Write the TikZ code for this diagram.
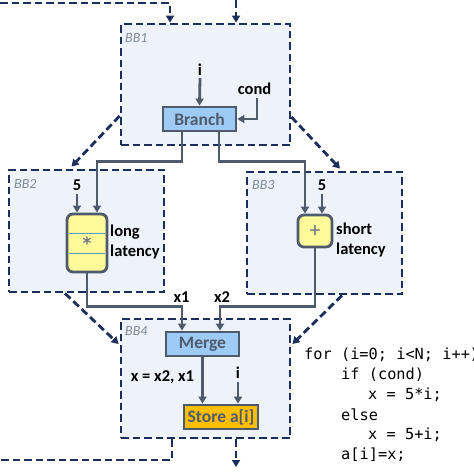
\documentclass[tikz,border=0pt]{standalone}
\usepackage{fontspec}
\setmainfont{Carlito}
\newfontfamily\codefont{DejaVu Sans Mono}
\newfontfamily\symfont{DejaVu Sans}
\usetikzlibrary{arrows.meta,calc}
\definecolor{bbborder}{HTML}{1B2E5C}
\definecolor{bbfill}{HTML}{EEF3FA}
\definecolor{wirec}{HTML}{4F5B6D}
\definecolor{opblue}{HTML}{9DCBF5}
\definecolor{opyellow}{HTML}{FFFA99}
\definecolor{storeor}{HTML}{FFBF00}
\definecolor{bbtext}{HTML}{7F8A99}
\definecolor{stage}{HTML}{5B9BD5}
\definecolor{symc}{HTML}{6E7486}
\begin{document}
\begin{tikzpicture}[x=1pt,y=-1pt,
  bbox/.style={draw=bbborder, fill=bbfill, line width=2.8pt, dash pattern=on 7.5pt off 4pt, inner sep=0pt},
  cflow/.style={draw=bbborder, line width=2.8pt, dash pattern=on 7.5pt off 4pt, -{Triangle[length=7pt,width=8pt]}},
  cline/.style={draw=bbborder, line width=2.8pt, dash pattern=on 7.5pt off 4pt},
  wire/.style={draw=wirec, line width=2.8pt, -{Triangle[length=7pt,width=8pt]}},
  opbox/.style={draw=wirec, line width=2.8pt, inner sep=0pt, font=\fontsize{17.5}{17.5}\selectfont\bfseries, text=wirec},
  lbl/.style={font=\fontsize{16.5}{20}\selectfont\bfseries, inner sep=0pt},
  bblbl/.style={font=\fontsize{14}{14}\selectfont\itshape, text=bbtext, inner sep=0pt, anchor=west},
  codeline/.style={font=\codefont\fontsize{15.3}{15.3}\selectfont, inner sep=0pt, anchor=west}
]
\useasboundingbox (0,0) rectangle (474,474);

% basic blocks
\node[bbox, minimum width=169pt, minimum height=121pt] (bb1) at (205.5,84.5) {};
\node[bbox, minimum width=155pt, minimum height=122pt] (bb2) at (86.5,231) {};
\node[bbox, minimum width=155pt, minimum height=122pt] (bb3) at (324.5,233) {};
\node[bbox, minimum width=169pt, minimum height=119pt] (bb4) at (205.5,378.5) {};

\node[bblbl] (l1) at (125,38) {BB1};
\node[bblbl] (l2) at (14,184) {BB2};
\node[bblbl] (l3) at (252,185) {BB3};
\node[bblbl] (l4) at (125,331) {BB4};

% operations
\node[opbox, fill=opblue, minimum width=73pt, minimum height=24pt] (branch) at (199.5,119) {Branch};
\node[opbox, fill=opyellow, rounded corners=6pt, minimum width=40pt, minimum height=58pt] (mul) at (87,243) {};
\draw[stage, line width=1pt] (68.6,233) -- (105.4,233) (68.6,253) -- (105.4,253);
\node[text=symc, font=\symfont\fontsize{17}{17}\selectfont\bfseries, inner sep=0pt] (mulsym) at (87,243) {*};
\node[opbox, fill=opyellow, rounded corners=6pt, minimum width=34pt, minimum height=32pt, font=\fontsize{22}{22}\selectfont, text=symc] (add) at (315,231) {+};
\node[opbox, fill=opblue, minimum width=73pt, minimum height=24pt] (merge) at (202.5,344) {Merge};
\node[opbox, fill=storeor, minimum width=74pt, minimum height=24pt] (store) at (221,417) {Store a[i]};

% labels
\node[lbl] (i1) at (200,70) {i};
\node[lbl] (cond) at (254.5,89) {cond};
\node[lbl] (five2) at (77,185) {5};
\node[lbl] (five3) at (322,185) {5};
\node[lbl, align=left, anchor=west] (longlat) at (110,242) {long\\latency};
\node[lbl, align=left, anchor=west] (shortlat) at (336,240) {short\\latency};
\node[lbl] (x1) at (181.5,297) {x1};
\node[lbl] (x2) at (222,297) {x2};
\node[lbl] (xeq) at (162.5,377) {x = x2, x1};
\node[lbl] (i4) at (238,373) {i};

% data flow
\draw[wire] (i1.south |- 0,78) -- (branch.north);
\draw[wire] ($(cond.south)+(2.5,3)$) |- (branch.east);
\draw[wire] ($(branch.south)+(-17.5,0)$) -- ++(0,29) -| ($(mul.north)+(10,0)$);
\draw[wire] ($(branch.south)+(19.5,0)$) -- ++(0,29) -| ($(add.north)+(-10,0)$);
\draw[wire] ($(five2.south)+(0,3)$) -- ($(mul.north)+(-10,0)$);
\draw[wire] ($(five3.south)+(0,3)$) -- ($(add.north)+(7,0)$);
\draw[wire] (mul.south) -- ++(0,33) -| ($(merge.north)+(-20.5,0)$);
\draw[wire] (add.south) -- ++(0,58) -| ($(merge.north)+(17.5,0)$);
\draw[wire] (merge.south) -- (merge.south |- store.north);
\draw[wire] ($(i4.south)+(0,3)$) -- (i4.south |- store.north);

% control flow
\coordinate (in1) at (0,3);
\coordinate (in2) at (236,0);
\coordinate (out1) at (0,460);
\coordinate (out2) at (236,467);
\draw[cflow] (in1) -| ($(bb1.north)+(-35.5,0)$);
\draw[cflow] (in2) -- ($(bb1.north)+(30.5,0)$);
\draw[cflow] ($(bb1.west)+(0,31.5)$) -- ($(bb2.north)+(-15,-2)$);
\draw[cflow] ($(bb1.east)+(0,32.5)$) -- ($(bb3.north)+(15.5,-2)$);
\draw[cflow] ($(bb2.south)+(-21.5,0)$) -- ($(bb4.west)+(-1,-34.5)$);
\draw[cflow] ($(bb3.south)+(17.5,0)$) -- ($(bb4.east)+(1,-34.5)$);
\draw[cline] ($(bb4.south)+(-33.5,0)$) |- (out1);
\draw[cflow] ($(bb4.south)+(30.5,0)$) -- (out2);

% source code
\node[codeline] (c1) at (304,355) {for (i=0; i<N; i++)};
\node[codeline] (c2) at (341,375) {if (cond)};
\node[codeline] (c3) at (368,395) {x = 5*i;};
\node[codeline] (c4) at (341,415) {else};
\node[codeline] (c5) at (368,435) {x = 5+i;};
\node[codeline] (c6) at (341,455) {a[i]=x;};
\end{tikzpicture}
\end{document}
